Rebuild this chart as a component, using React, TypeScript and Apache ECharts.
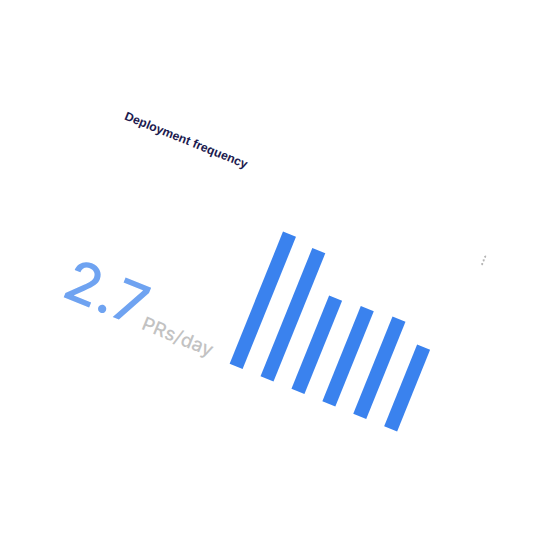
import React, { useEffect, useRef } from "react";
import * as echarts from "echarts";

const TITLE = "Deployment frequency";
const METRIC_VALUE = "2.7";
const METRIC_UNIT = "PRs/day";
const CATEGORIES = ["W1", "W2", "W3", "W4", "W5", "W6"];
const VALUES = [3.4, 3.3, 2.4, 2.45, 2.5, 2.1];

export default function App() {
  const ref = useRef<HTMLDivElement>(null);
  useEffect(() => {
    if (!ref.current) return;
    const chart = echarts.init(ref.current, null, { renderer: "svg" });
    chart.setOption({
      animation: false,
      backgroundColor: "#ffffff",
      grid: { left: 258, width: 200, bottom: 168, top: 204.4 },
      xAxis: {
        type: "category",
        data: CATEGORIES,
        axisLine: { show: false },
        axisTick: { show: false },
        axisLabel: { show: false },
      },
      yAxis: {
        type: "value",
        min: 0,
        max: 4,
        show: false,
        splitLine: { show: false },
      },
      series: [
        {
          type: "bar",
          data: VALUES,
          barWidth: 14,
          itemStyle: { color: "#3a82ee" },
        },
      ],
      graphic: [
        {
          type: "text",
          left: 78,
          top: 175,
          style: {
            text: TITLE,
            fontSize: 12.2,
            fontWeight: "bold",
            fontFamily: "Liberation Sans, Arial, sans-serif",
            fill: "#1d1b4f",
          },
        },
        {
          type: "text",
          x: 85,
          y: 352,
          style: {
            text: METRIC_VALUE,
            fontSize: 57,
            fontWeight: 500,
            fontFamily: "Inter, sans-serif",
            fill: "#6fa3f1",
            verticalAlign: "middle",
          },
        },
        {
          type: "text",
          x: 172,
          y: 366.5,
          style: {
            text: METRIC_UNIT,
            fontSize: 19,
            fontWeight: 500,
            fontFamily: "Inter, sans-serif",
            fill: "#c2c2c2",
            verticalAlign: "middle",
          },
        },
        { type: "circle", shape: { cx: 464.5, cy: 177, r: 1 }, style: { fill: "#b5b5b5" } },
        { type: "circle", shape: { cx: 464.5, cy: 181, r: 1 }, style: { fill: "#b5b5b5" } },
        { type: "circle", shape: { cx: 464.5, cy: 185, r: 1 }, style: { fill: "#b5b5b5" } },
      ],
    });
    return () => chart.dispose();
  }, []);

  return (
    <div
      style={{
        position: "fixed",
        left: 0,
        top: 0,
        width: 540,
        height: 540,
        overflow: "hidden",
        background: "#ffffff",
      }}
    >
      <div
        ref={ref}
        style={{
          width: 540,
          height: 540,
          transform: "rotate(22deg)",
          transformOrigin: "270px 270px",
        }}
      />
    </div>
  );
}
